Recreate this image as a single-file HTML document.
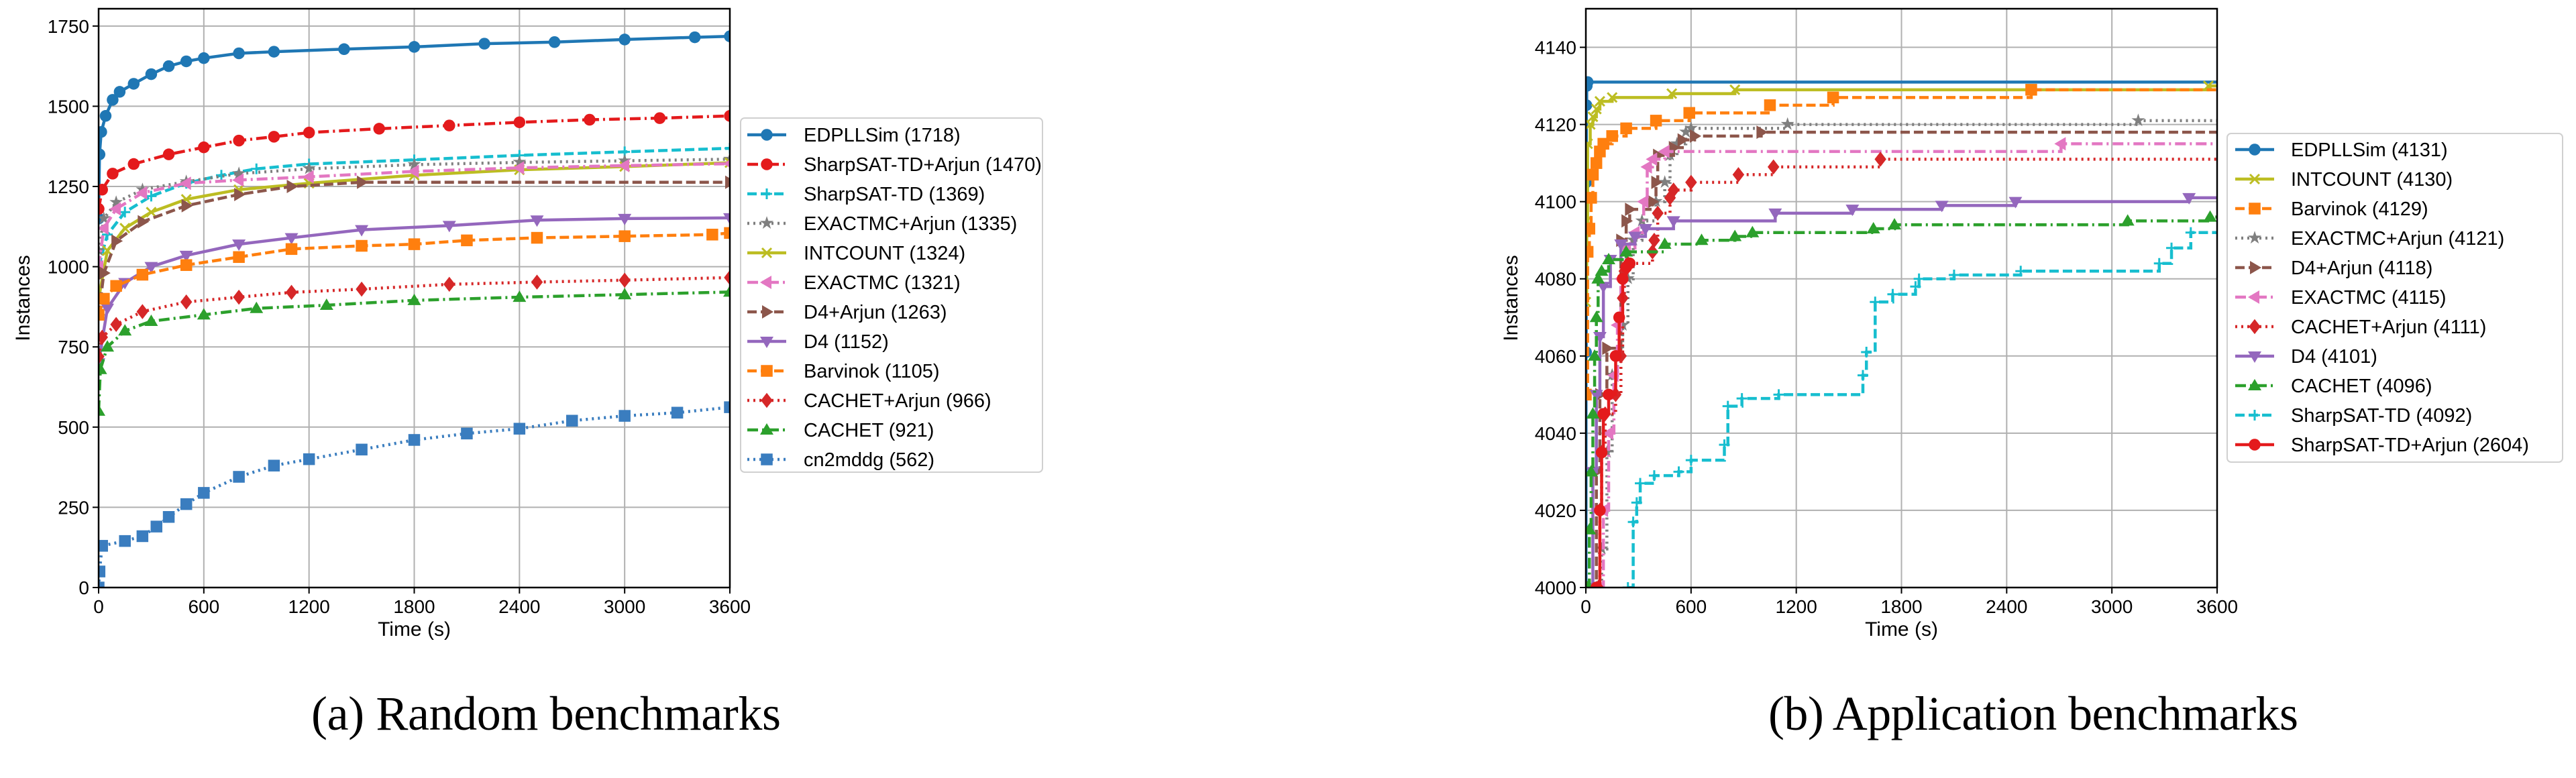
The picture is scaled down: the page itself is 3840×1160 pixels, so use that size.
<!DOCTYPE html>
<html><head><meta charset="utf-8"><style>
html,body{margin:0;padding:0;background:#fff;}
svg{display:block;font-family:"Liberation Sans",sans-serif;}
</style></head><body>
<svg id="fig" width="3840" height="1160" viewBox="0 0 3840 1160" xmlns="http://www.w3.org/2000/svg">
<text x="814" y="1088" font-family="Liberation Serif" font-size="72" text-anchor="middle" textLength="700">(a) Random benchmarks</text>
<text x="3031" y="1088" font-family="Liberation Serif" font-size="72" text-anchor="middle" textLength="790">(b) Application benchmarks</text>
</svg>
<script>
// ---- Chart A data (Random benchmarks) ----
const xTicksA = [0,600,1200,1800,2400,3000,3600];
const yTicksA = [0,250,500,750,1000,1250,1500,1750];
const namesA = ["EDPLLSim (1718)","SharpSAT-TD+Arjun (1470)","SharpSAT-TD (1369)","EXACTMC+Arjun (1335)","INTCOUNT (1324)","EXACTMC (1321)","D4+Arjun (1263)","D4 (1152)","Barvinok (1105)","CACHET+Arjun (966)","CACHET (921)","cn2mddg (562)"];
const tA_edpll = [0,5,15,40,80,120,200,300,400,500,600,800,1000,1400,1800,2200,2600,3000,3400,3600];
const vA_edpll = [1150,1350,1420,1470,1520,1545,1570,1600,1625,1640,1650,1665,1670,1678,1685,1695,1700,1708,1715,1718];
const tA_sstdA = [0,20,80,200,400,600,800,1000,1200,1600,2000,2400,2800,3200,3600];
const vA_sstdA = [1180,1240,1290,1320,1350,1372,1393,1405,1418,1430,1440,1450,1458,1463,1470];
const tA_sstd = [0,50,150,300,500,700,900,1200,1800,2400,3000,3600];
const vA_sstd = [1000,1100,1170,1220,1260,1285,1305,1320,1333,1347,1358,1369];
const tA_emcA = [0,30,100,250,500,800,1200,1800,2400,3000,3600];
const vA_emcA = [1050,1150,1200,1240,1265,1290,1305,1318,1325,1330,1335];
const tA_int = [0,50,150,300,500,800,1200,1800,2400,3000,3600];
const vA_int = [900,1050,1120,1170,1210,1240,1260,1285,1302,1312,1324];
const tA_emc = [0,30,100,250,500,800,1200,1800,2400,3000,3600];
const vA_emc = [1000,1120,1180,1230,1260,1270,1280,1297,1308,1315,1321];
const tA_d4A = [0,30,100,250,500,800,1100,1500,3600];
const vA_d4A = [850,980,1080,1140,1190,1225,1250,1263,1263];
const tA_d4 = [0,50,150,300,500,800,1100,1500,2000,2500,3000,3600];
const vA_d4 = [700,870,950,1000,1035,1070,1090,1115,1128,1145,1150,1152];
const tA_barv = [0,30,100,250,500,800,1100,1500,1800,2100,2500,3000,3500,3600];
const vA_barv = [850,900,940,975,1005,1030,1055,1065,1070,1082,1090,1095,1100,1105];
const tA_cachA = [0,20,100,250,500,800,1100,1500,2000,2500,3000,3600];
const vA_cachA = [720,780,820,860,890,905,920,930,945,952,958,966];
const tA_cach = [0,10,50,150,300,600,900,1300,1800,2400,3000,3600];
const vA_cach = [550,680,750,800,830,850,870,880,895,905,913,921];
const tA_cn2 = [0,5,20,150,250,330,400,500,600,800,1000,1200,1500,1800,2100,2400,2700,3000,3300,3600];
const vA_cn2 = [0,50,130,145,160,190,220,260,295,345,380,400,430,460,480,495,520,535,545,562];

// ---- Chart B data (Application benchmarks) ----
const xTicksB = [0,600,1200,1800,2400,3000,3600];
const yTicksB = [4000,4020,4040,4060,4080,4100,4120,4140];
const namesB = ["EDPLLSim (4131)","INTCOUNT (4130)","Barvinok (4129)","EXACTMC+Arjun (4121)","D4+Arjun (4118)","EXACTMC (4115)","CACHET+Arjun (4111)","D4 (4101)","CACHET (4096)","SharpSAT-TD (4092)","SharpSAT-TD+Arjun (2604)"];
const tB_edpll=[0,1,2,3,5,10]; const vB_edpll=[4000,4061,4105,4125,4130,4131];
const tB_int=[0,5,10,25,40,60,80,150,490,850,3550]; const vB_int=[4074,4095,4115,4120,4122,4124,4126,4127,4128,4129,4130];
const tB_barv=[0,10,20,30,40,60,80,100,150,230,400,590,1050,1410,2540]; const vB_barv=[4050,4087,4093,4101,4107,4110,4113,4115,4117,4119,4121,4123,4125,4127,4129];
const tB_emcA=[60,90,120,150,180,210,240,270,320,400,450,480,520,570,600,1150,3150]; const vB_emcA=[4000,4010,4035,4055,4060,4068,4080,4090,4095,4100,4105,4112,4115,4118,4119,4120,4121];
const tB_d4A=[30,60,80,120,200,230,250,380,400,410,500,550,620,1000]; const vB_d4A=[4000,4030,4050,4062,4090,4095,4098,4100,4105,4112,4114,4116,4117,4118];
const tB_emc=[80,100,130,160,180,200,230,280,330,350,380,450,2710]; const vB_emc=[4000,4020,4040,4055,4068,4080,4088,4092,4100,4109,4111,4113,4115];
const tB_cachA=[70,80,90,110,170,200,210,220,240,380,390,410,480,500,600,870,1070,1680]; const vB_cachA=[4000,4020,4035,4045,4050,4060,4075,4082,4084,4087,4090,4097,4101,4103,4105,4107,4109,4111];
const tB_d4=[20,40,60,80,100,140,200,280,340,500,1080,1520,2030,2450,3440]; const vB_d4=[4000,4030,4050,4065,4078,4085,4089,4091,4093,4095,4097,4098,4099,4100,4101];
const tB_cach=[10,20,30,40,50,60,70,90,130,230,450,660,850,950,1640,1760,3090,3560]; const vB_cach=[4000,4015,4030,4045,4060,4070,4080,4082,4085,4087,4089,4090,4091,4092,4093,4094,4095,4096];
const tB_sstd=[240,270,290,310,390,530,600,790,810,890,1100,1580,1600,1650,1750,1880,1900,2100,2480,3270,3340,3450]; const vB_sstd=[4000,4017,4022,4027,4029,4030,4033,4037,4047,4049,4050,4055,4061,4074,4076,4078,4080,4081,4082,4084,4088,4092];
const tB_sstdA=[60,80,90,100,130,170,190,210,230,250]; const vB_sstdA=[4000,4020,4035,4045,4050,4060,4070,4080,4083,4084];

const NS="http://www.w3.org/2000/svg";
const svg=document.getElementById('fig');
function mk(tag,attrs,parent){const e=document.createElementNS(NS,tag);for(const k in attrs)e.setAttribute(k,attrs[k]);(parent||svg).appendChild(e);return e;}
const DASH={solid:"",dashed:"14,6",dotted:"3,6",dashdot:"16,6,3,6"};
const K=1.25;
function marker(g,type,x,y,c){
  const s=8*K;let e;
  if(type==='o')e=mk('circle',{cx:x,cy:y,r:7*K,fill:c},g);
  else if(type==='s')e=mk('rect',{x:x-7*K,y:y-7*K,width:14*K,height:14*K,fill:c},g);
  else if(type==='D')e=mk('polygon',{points:`${x},${y-9*K} ${x+7*K},${y} ${x},${y+9*K} ${x-7*K},${y}`,fill:c},g);
  else if(type==='^')e=mk('polygon',{points:`${x},${y-s} ${x+s},${y+s*0.7} ${x-s},${y+s*0.7}`,fill:c},g);
  else if(type==='v')e=mk('polygon',{points:`${x},${y+s} ${x+s},${y-s*0.7} ${x-s},${y-s*0.7}`,fill:c},g);
  else if(type==='<')e=mk('polygon',{points:`${x-s},${y} ${x+s*0.7},${y-s} ${x+s*0.7},${y+s}`,fill:c},g);
  else if(type==='>')e=mk('polygon',{points:`${x+s},${y} ${x-s*0.7},${y-s} ${x-s*0.7},${y+s}`,fill:c},g);
  else if(type==='*')e=mk('text',{x:x,y:y+8,'font-size':26,'text-anchor':'middle',fill:c},g),e.textContent='★';
  else if(type==='+'){e=mk('path',{d:`M${x-8},${y}H${x+8}M${x},${y-8}V${y+8}`,stroke:c,'stroke-width':3},g);}
  else if(type==='x'){e=mk('path',{d:`M${x-7},${y-7}L${x+7},${y+7}M${x-7},${y+7}L${x+7},${y-7}`,stroke:c,'stroke-width':3},g);}
  
  
}
function drawChart(cfg){
  const {L,R,T,B,ymin,ymax,xTicks,yTicks,series,legend,prefix,ylabelX,step}=cfg;
  const xs=t=>L+t/3600*(R-L);
  const ys=v=>B-(v-ymin)/(ymax-ymin)*(B-T);
  const g=mk('g',{});
  
  
  const clipId=prefix+'clip';
  const cp=mk('clipPath',{id:clipId},g);mk('rect',{x:L,y:T,width:R-L,height:B-T},cp);
  xTicks.forEach(t=>{
    const l=mk('line',{x1:xs(t),x2:xs(t),y1:T,y2:B,stroke:'#b0b0b0','stroke-width':2},g);
    
    mk('line',{x1:xs(t),x2:xs(t),y1:B,y2:B+9,stroke:'#000','stroke-width':2},g);
    const tx=mk('text',{x:xs(t),y:B+38,'font-size':28,'text-anchor':'middle'},g);tx.textContent=t;
    
  });
  yTicks.forEach(v=>{
    const l=mk('line',{x1:L,x2:R,y1:ys(v),y2:ys(v),stroke:'#b0b0b0','stroke-width':2},g);
    
    mk('line',{x1:L-9,x2:L,y1:ys(v),y2:ys(v),stroke:'#000','stroke-width':2},g);
    const tx=mk('text',{x:L-14,y:ys(v)+10,'font-size':28,'text-anchor':'end'},g);tx.textContent=v;
    
  });
  const sg=mk('g',{'clip-path':`url(#${clipId})`},g);
  series.forEach(s=>{
    let pts=[];
    s.t.forEach((t,i)=>{
      if(step&&i>0)pts.push([xs(t),ys(s.v[i-1])]);
      pts.push([xs(t),ys(s.v[i])]);
    });
    if(step&&s.extend)pts.push([R,ys(s.v[s.v.length-1])]);
    if(!step&&s.t[s.t.length-1]<3600)pts.push([R,ys(s.v[s.v.length-1])]);
    const ln=mk('polyline',{points:pts.map(p=>p.join(',')).join(' '),fill:'none',stroke:s.c,'stroke-width':4.5,'stroke-dasharray':DASH[s.ls]},sg);
    
    s.t.forEach((t,i)=>marker(sg,s.m,xs(t),ys(s.v[i]),s.c));
  });
  mk('rect',{x:L,y:T,width:R-L,height:B-T,fill:'none',stroke:'#000','stroke-width':2.5},g);
  const xl=mk('text',{x:(L+R)/2,y:B+72,'font-size':30,'text-anchor':'middle'},g);xl.textContent='Time (s)';
  
  const yl=mk('text',{x:ylabelX,y:(T+B)/2,'font-size':30,'text-anchor':'middle',transform:`rotate(-90 ${ylabelX} ${(T+B)/2})`},g);yl.textContent='Instances';
  
  const lg=mk('g',{},g);
  
  mk('rect',{x:legend.x,y:legend.y,width:legend.w,height:legend.h,rx:6,fill:'#fff','fill-opacity':0.8,stroke:'#d0d0d0','stroke-width':2},lg);
  series.forEach((s,i)=>{
    const y=legend.y0+i*44;
    const e=mk('g',{},lg);
    
    mk('line',{x1:legend.lx,x2:legend.lx+58,y1:y,y2:y,stroke:s.c,'stroke-width':4.5,'stroke-dasharray':DASH[s.ls]},e);
    marker(e,s.m,legend.lx+29,y,s.c);
    const t=mk('text',{x:legend.tx,y:y+10,'font-size':29},e);t.textContent=s.name;
  });
}
const colA=['#1f77b4','#e41a1c','#17becf','#7f7f7f','#bcbd22','#e377c2','#8c564b','#9467bd','#ff7f0e','#d62728','#2ca02c','#3a7dbf'];
const mA=['o','o','+','*','x','<','>','v','s','D','^','s'];
const lsA=['solid','dashdot','dashed','dotted','solid','dashdot','dashed','solid','dashed','dotted','dashdot','dotted'];
const tA=[tA_edpll,tA_sstdA,tA_sstd,tA_emcA,tA_int,tA_emc,tA_d4A,tA_d4,tA_barv,tA_cachA,tA_cach,tA_cn2];
const vA=[vA_edpll,vA_sstdA,vA_sstd,vA_emcA,vA_int,vA_emc,vA_d4A,vA_d4,vA_barv,vA_cachA,vA_cach,vA_cn2];
drawChart({L:147,R:1088,T:13,B:876,ymin:0,ymax:1804,xTicks:xTicksA,yTicks:yTicksA,prefix:'random',ylabelX:44,step:false,
  series:namesA.map((n,i)=>({name:n,t:tA[i],v:vA[i],c:colA[i],m:mA[i],ls:lsA[i]})),
  legend:{x:1104,y:176,w:450,h:528,y0:201,lx:1114,tx:1198}});
const colB=['#1f77b4','#bcbd22','#ff7f0e','#7f7f7f','#8c564b','#e377c2','#d62728','#9467bd','#2ca02c','#17becf','#e41a1c'];
const mB=['o','x','s','*','>','<','D','v','^','+','o'];
const lsB=['solid','solid','dashed','dotted','dashed','dashdot','dotted','solid','dashdot','dashed','solid'];
const tB=[tB_edpll,tB_int,tB_barv,tB_emcA,tB_d4A,tB_emc,tB_cachA,tB_d4,tB_cach,tB_sstd,tB_sstdA];
const vB=[vB_edpll,vB_int,vB_barv,vB_emcA,vB_d4A,vB_emc,vB_cachA,vB_d4,vB_cach,vB_sstd,vB_sstdA];
drawChart({L:2364,R:3305,T:13,B:876,ymin:4000,ymax:4150,xTicks:xTicksB,yTicks:yTicksB,prefix:'application',ylabelX:2262,step:true,
  series:namesB.map((n,i)=>({name:n,t:tB[i],v:vB[i],c:colB[i],m:mB[i],ls:lsB[i],extend:i<10})),
  legend:{x:3320,y:199,w:500,h:490,y0:223,lx:3332,tx:3415}});
</script>
</body></html>
